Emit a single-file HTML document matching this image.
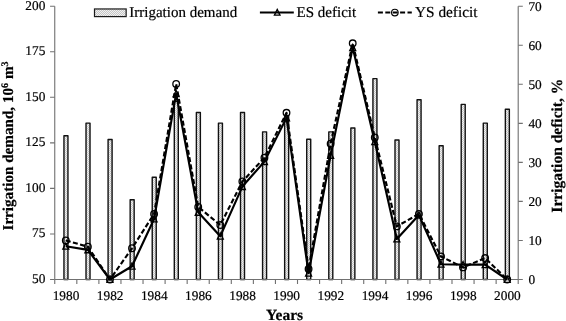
<!DOCTYPE html>
<html><head><meta charset="utf-8"><title>Irrigation demand and deficit</title>
<style>
html,body{margin:0;padding:0;background:#fff;}
body{width:566px;height:321px;overflow:hidden;}
svg{display:block;text-rendering:geometricPrecision;font-family:"Liberation Serif","Times New Roman",serif;}
.t{font-size:13.33px;fill:#000;}
.b{font-size:15px;font-weight:bold;fill:#000;}
.l{font-size:15px;fill:#000;}
text{stroke:#000;stroke-width:0.2px;}
</style></head><body>
<svg width="566" height="321" viewBox="0 0 566 321">
<defs>
<pattern id="h" width="2" height="2" patternUnits="userSpaceOnUse"><rect width="2" height="2" fill="#f0f0f0"/><path d="M-0.5 2.5 L2.5 -0.5 M-0.5 0.5 L0.5 -0.5 M1.5 2.5 L2.5 1.5" stroke="#a8a8a8" stroke-width="0.6"/></pattern>
</defs>
<rect width="566" height="321" fill="#fff"/>

<g fill="url(#h)" stroke="#111" stroke-width="1.4" stroke-linejoin="round">
<rect x="63.95" y="135.68" width="4.0" height="143.82"/>
<rect x="86.02" y="123.11" width="4.0" height="156.39"/>
<rect x="108.09" y="139.51" width="4.0" height="139.99"/>
<rect x="130.16" y="199.81" width="4.0" height="79.69"/>
<rect x="152.23" y="177.22" width="4.0" height="102.28"/>
<rect x="174.30" y="101.24" width="4.0" height="178.26"/>
<rect x="196.37" y="112.54" width="4.0" height="166.96"/>
<rect x="218.44" y="123.11" width="4.0" height="156.39"/>
<rect x="240.51" y="112.54" width="4.0" height="166.96"/>
<rect x="262.58" y="131.85" width="4.0" height="147.65"/>
<rect x="284.65" y="115.82" width="4.0" height="163.68"/>
<rect x="306.72" y="139.32" width="4.0" height="140.18"/>
<rect x="328.79" y="131.85" width="4.0" height="147.65"/>
<rect x="350.86" y="128.03" width="4.0" height="151.47"/>
<rect x="372.93" y="78.65" width="4.0" height="200.85"/>
<rect x="395.00" y="140.05" width="4.0" height="139.45"/>
<rect x="417.07" y="99.79" width="4.0" height="179.71"/>
<rect x="439.14" y="145.70" width="4.0" height="133.80"/>
<rect x="461.21" y="104.34" width="4.0" height="175.16"/>
<rect x="483.28" y="123.11" width="4.0" height="156.39"/>
<rect x="505.35" y="109.26" width="4.0" height="170.24"/>
</g>
<g stroke="#707070" stroke-width="1.1" fill="none">
<path d="M54.75 6.2 V279.5 M518.2 6.2 V279.5 M54.75 279.5 H518.2"/>
<path d="M50.05 6.20 H54.75 M50.05 51.75 H54.75 M50.05 97.30 H54.75 M50.05 142.85 H54.75 M50.05 188.40 H54.75 M50.05 233.95 H54.75 M50.05 279.50 H54.75 M518.2 6.20 H522.8000000000001 M518.2 45.24 H522.8000000000001 M518.2 84.29 H522.8000000000001 M518.2 123.33 H522.8000000000001 M518.2 162.37 H522.8000000000001 M518.2 201.41 H522.8000000000001 M518.2 240.46 H522.8000000000001 M518.2 279.50 H522.8000000000001 M54.75 279.5 V284.1 M76.82 279.5 V284.1 M98.89 279.5 V284.1 M120.96 279.5 V284.1 M143.03 279.5 V284.1 M165.10 279.5 V284.1 M187.16 279.5 V284.1 M209.23 279.5 V284.1 M231.30 279.5 V284.1 M253.37 279.5 V284.1 M275.44 279.5 V284.1 M297.51 279.5 V284.1 M319.58 279.5 V284.1 M341.65 279.5 V284.1 M363.72 279.5 V284.1 M385.79 279.5 V284.1 M407.85 279.5 V284.1 M429.92 279.5 V284.1 M451.99 279.5 V284.1 M474.06 279.5 V284.1 M496.13 279.5 V284.1 M518.20 279.5 V284.1 "/>
</g>
<polyline points="65.80,240.46 87.87,246.70 109.94,279.50 132.01,248.27 154.08,213.91 176.15,83.90 198.22,206.88 220.29,225.04 242.36,181.50 264.43,157.69 286.50,112.79 308.57,268.96 330.64,143.63 352.71,43.29 374.78,137.38 396.85,226.40 418.92,213.91 440.99,256.46 463.06,267.40 485.13,258.03 507.20,279.50" fill="none" stroke="#000" stroke-width="2.15" stroke-dasharray="5 2.4" stroke-linejoin="round"/>
<polyline points="65.80,246.31 87.87,249.83 109.94,279.50 132.01,266.23 154.08,218.98 176.15,93.66 198.22,212.35 220.29,236.16 242.36,186.58 264.43,161.59 286.50,117.86 308.57,273.25 330.64,155.34 352.71,47.59 374.78,141.68 396.85,238.90 418.92,215.08 440.99,264.27 463.06,264.66 485.13,264.66 507.20,279.50" fill="none" stroke="#000" stroke-width="2.15" stroke-linejoin="round"/>
<g fill="none" stroke="#000" stroke-width="1.3">
<path d="M65.80 243.11 L68.80 249.21 H62.80 Z"/>
<path d="M87.87 246.63 L90.87 252.73 H84.87 Z"/>
<path d="M109.94 276.30 L112.94 282.40 H106.94 Z"/>
<path d="M132.01 263.03 L135.01 269.13 H129.01 Z"/>
<path d="M154.08 215.78 L157.08 221.88 H151.08 Z"/>
<path d="M176.15 90.46 L179.15 96.56 H173.15 Z"/>
<path d="M198.22 209.15 L201.22 215.25 H195.22 Z"/>
<path d="M220.29 232.96 L223.29 239.06 H217.29 Z"/>
<path d="M242.36 183.38 L245.36 189.48 H239.36 Z"/>
<path d="M264.43 158.39 L267.43 164.49 H261.43 Z"/>
<path d="M286.50 114.66 L289.50 120.76 H283.50 Z"/>
<path d="M308.57 270.05 L311.57 276.15 H305.57 Z"/>
<path d="M330.64 152.14 L333.64 158.24 H327.64 Z"/>
<path d="M352.71 44.39 L355.71 50.49 H349.71 Z"/>
<path d="M374.78 138.48 L377.78 144.58 H371.78 Z"/>
<path d="M396.85 235.70 L399.85 241.80 H393.85 Z"/>
<path d="M418.92 211.88 L421.92 217.98 H415.92 Z"/>
<path d="M440.99 261.07 L443.99 267.17 H437.99 Z"/>
<path d="M463.06 261.46 L466.06 267.56 H460.06 Z"/>
<path d="M485.13 261.46 L488.13 267.56 H482.13 Z"/>
<path d="M507.20 276.30 L510.20 282.40 H504.20 Z"/>
<circle cx="65.80" cy="240.46" r="3.3"/>
<circle cx="87.87" cy="246.70" r="3.3"/>
<circle cx="109.94" cy="279.50" r="3.3"/>
<circle cx="132.01" cy="248.27" r="3.3"/>
<circle cx="154.08" cy="213.91" r="3.3"/>
<circle cx="176.15" cy="83.90" r="3.3"/>
<circle cx="198.22" cy="206.88" r="3.3"/>
<circle cx="220.29" cy="225.04" r="3.3"/>
<circle cx="242.36" cy="181.50" r="3.3"/>
<circle cx="264.43" cy="157.69" r="3.3"/>
<circle cx="286.50" cy="112.79" r="3.3"/>
<circle cx="308.57" cy="268.96" r="3.3"/>
<circle cx="330.64" cy="143.63" r="3.3"/>
<circle cx="352.71" cy="43.29" r="3.3"/>
<circle cx="374.78" cy="137.38" r="3.3"/>
<circle cx="396.85" cy="226.40" r="3.3"/>
<circle cx="418.92" cy="213.91" r="3.3"/>
<circle cx="440.99" cy="256.46" r="3.3"/>
<circle cx="463.06" cy="267.40" r="3.3"/>
<circle cx="485.13" cy="258.03" r="3.3"/>
<circle cx="507.20" cy="279.50" r="3.3"/>
</g>
<text class="t" x="45.3" y="9.50" text-anchor="end">200</text>
<text class="t" x="45.3" y="55.05" text-anchor="end">175</text>
<text class="t" x="45.3" y="100.60" text-anchor="end">150</text>
<text class="t" x="45.3" y="146.15" text-anchor="end">125</text>
<text class="t" x="45.3" y="191.70" text-anchor="end">100</text>
<text class="t" x="45.3" y="237.25" text-anchor="end">75</text>
<text class="t" x="45.3" y="282.80" text-anchor="end">50</text>
<text class="t" x="528.4" y="10.60">70</text>
<text class="t" x="528.4" y="49.64">60</text>
<text class="t" x="528.4" y="88.69">50</text>
<text class="t" x="528.4" y="127.73">40</text>
<text class="t" x="528.4" y="166.77">30</text>
<text class="t" x="528.4" y="205.81">20</text>
<text class="t" x="528.4" y="244.86">10</text>
<text class="t" x="528.4" y="283.90">0</text>
<text class="t" x="66.00" y="300.4" text-anchor="middle">1980</text>
<text class="t" x="110.14" y="300.4" text-anchor="middle">1982</text>
<text class="t" x="154.28" y="300.4" text-anchor="middle">1984</text>
<text class="t" x="198.42" y="300.4" text-anchor="middle">1986</text>
<text class="t" x="242.56" y="300.4" text-anchor="middle">1988</text>
<text class="t" x="286.70" y="300.4" text-anchor="middle">1990</text>
<text class="t" x="330.84" y="300.4" text-anchor="middle">1992</text>
<text class="t" x="374.98" y="300.4" text-anchor="middle">1994</text>
<text class="t" x="419.12" y="300.4" text-anchor="middle">1996</text>
<text class="t" x="463.26" y="300.4" text-anchor="middle">1998</text>
<text class="t" x="507.40" y="300.4" text-anchor="middle">2000</text>
<text class="b" x="284.6" y="320.3" style="font-size:15.5px" text-anchor="middle">Years</text>
<text class="b" transform="translate(12.5,146) rotate(-90)" text-anchor="middle" style="font-size:15.15px">Irrigation demand, 10<tspan style="font-size:10px" dy="-4.9">6</tspan><tspan dy="4.9"> m</tspan><tspan style="font-size:10px" dy="-4.9">3</tspan></text>
<text class="b" transform="translate(562,145.7) rotate(-90)" text-anchor="middle" style="font-size:15.5px">Irrigation deficit, %</text>
<rect x="94.5" y="8.96" width="31.65" height="7.64" fill="url(#h)" stroke="#1a1a1a" stroke-width="1.2"/>
<text class="l" x="129.3" y="17.3">Irrigation demand</text>
<path d="M259.9 12.5 H293.8" stroke="#000" stroke-width="2.15"/>
<path d="M277.2 9.4 L280 15.2 H274.4 Z" fill="none" stroke="#000" stroke-width="1.3"/>
<text class="l" x="296.6" y="17.2">ES deficit</text>
<path d="M377.9 12.5 H411.8" stroke="#000" stroke-width="2.15" stroke-dasharray="5 2.4"/>
<circle cx="394.85" cy="12.5" r="3.3" fill="none" stroke="#000" stroke-width="1.15"/>
<text class="l" x="415" y="17.2" style="font-size:15.3px">YS deficit</text>
</svg></body></html>
